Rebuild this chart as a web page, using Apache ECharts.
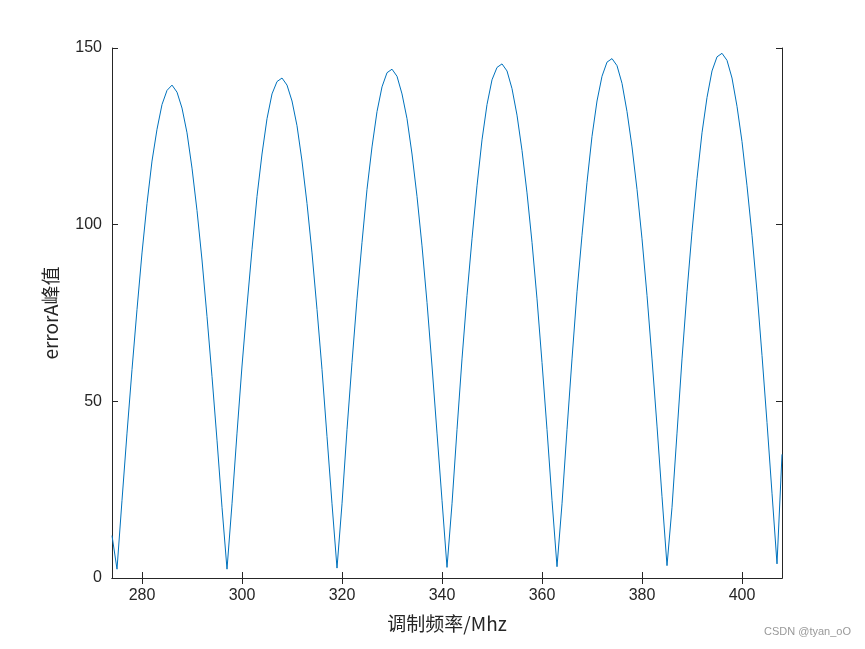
<!DOCTYPE html>
<html>
<head>
<meta charset="utf-8">
<script src="https://cdn.jsdelivr.net/npm/echarts@6/dist/echarts.min.js"></script>
<style>html,body{margin:0;background:#fff}#main{width:865px;height:649px}</style>
</head>
<body>
<div id="main"></div>
<script>
var freqStart = 274;
var errorPeak = [
    12, 2.5, 22, 41, 59, 76, 92, 106, 118, 127, 134, 138, 139.5, 137.5, 133, 126, 116, 104, 90, 74, 57, 39, 20, 2.5,
    21, 41, 60, 77, 93, 108, 120, 130, 137, 140.5, 141.5, 139.5, 135, 128, 118, 106, 92, 76, 59, 40, 21, 2.8,
    21, 42, 61, 79, 95, 110, 122, 132, 139, 143, 144, 142, 137, 130, 120, 108, 94, 78, 60, 41, 22, 3,
    21, 42, 62, 80, 96, 111, 124, 134, 141, 144.5, 145.5, 143.5, 138.5, 131, 121, 109, 95, 79, 61, 42, 22, 3.2,
    21, 42, 62, 81, 97, 112, 125, 135, 142, 146, 147, 145, 140, 132, 122, 110, 96, 80, 62, 43, 23, 3.5,
    20, 41, 62, 81, 98, 113, 126, 136, 143.5, 147.5, 148.5, 146.5, 141.5, 133.5, 123.5, 111, 97, 81, 63, 44, 24, 4, 35
];
var xTicks = [280, 300, 320, 340, 360, 380, 400];
var yTicks = [0, 50, 100, 150];

var points = [];
for (var i = 0; i < errorPeak.length; i++) {
    points.push([freqStart + i, errorPeak[i]]);
}

var font = "'Liberation Sans', Arial, sans-serif";
var axisColor = '#262626';
var myChart = echarts.init(document.getElementById('main'));
var option = {
    backgroundColor: '#fff',
    animation: false,
    grid: { left: 112, right: 83, top: 48, bottom: 71 },
    xAxis: [
        {
            type: 'value', min: 274, max: 408, position: 'bottom',
            name: '调制频率/Mhz', nameLocation: 'middle', nameGap: 36,
            nameTextStyle: { color: axisColor, fontSize: 19, fontFamily: "'Noto Sans CJK SC', " + font },
            axisLine: { lineStyle: { color: axisColor } },
            axisTick: { inside: true, length: 6, customValues: xTicks, lineStyle: { color: axisColor } },
            axisLabel: { customValues: xTicks, color: axisColor, fontSize: 16, fontFamily: font, margin: 10 },
            splitLine: { show: false }
        },
        {
            type: 'value', min: 274, max: 408, position: 'top',
            axisLine: { lineStyle: { color: axisColor } },
            axisTick: { inside: true, length: 6, customValues: xTicks, lineStyle: { color: axisColor } },
            axisLabel: { show: false },
            splitLine: { show: false }
        }
    ],
    yAxis: [
        {
            type: 'value', min: 0, max: 150, interval: 50, position: 'left',
            name: 'errorA峰值', nameLocation: 'middle', nameGap: 52, nameRotate: 90,
            nameTextStyle: { color: axisColor, fontSize: 19, fontFamily: "'Noto Sans CJK SC', " + font },
            axisLine: { show: true, lineStyle: { color: axisColor } },
            axisTick: { inside: true, length: 6, lineStyle: { color: axisColor } },
            axisLabel: { color: axisColor, fontSize: 16, fontFamily: font, margin: 10 },
            splitLine: { show: false }
        },
        {
            type: 'value', min: 0, max: 150, interval: 50, position: 'right',
            axisLine: { show: true, lineStyle: { color: axisColor } },
            axisTick: { inside: true, length: 6, lineStyle: { color: axisColor } },
            axisLabel: { show: false },
            splitLine: { show: false }
        }
    ],
    series: [
        {
            type: 'line',
            data: points,
            showSymbol: false,
            lineStyle: { color: '#0072BD', width: 1 },
            clip: true
        }
    ],
    graphic: [
        {
            type: 'text', right: 14, bottom: 12,
            style: { text: 'CSDN @tyan_oO', fill: '#999', fontSize: 11, fontFamily: font }
        }
    ]
};
myChart.setOption(option);
</script>
</body>
</html>
